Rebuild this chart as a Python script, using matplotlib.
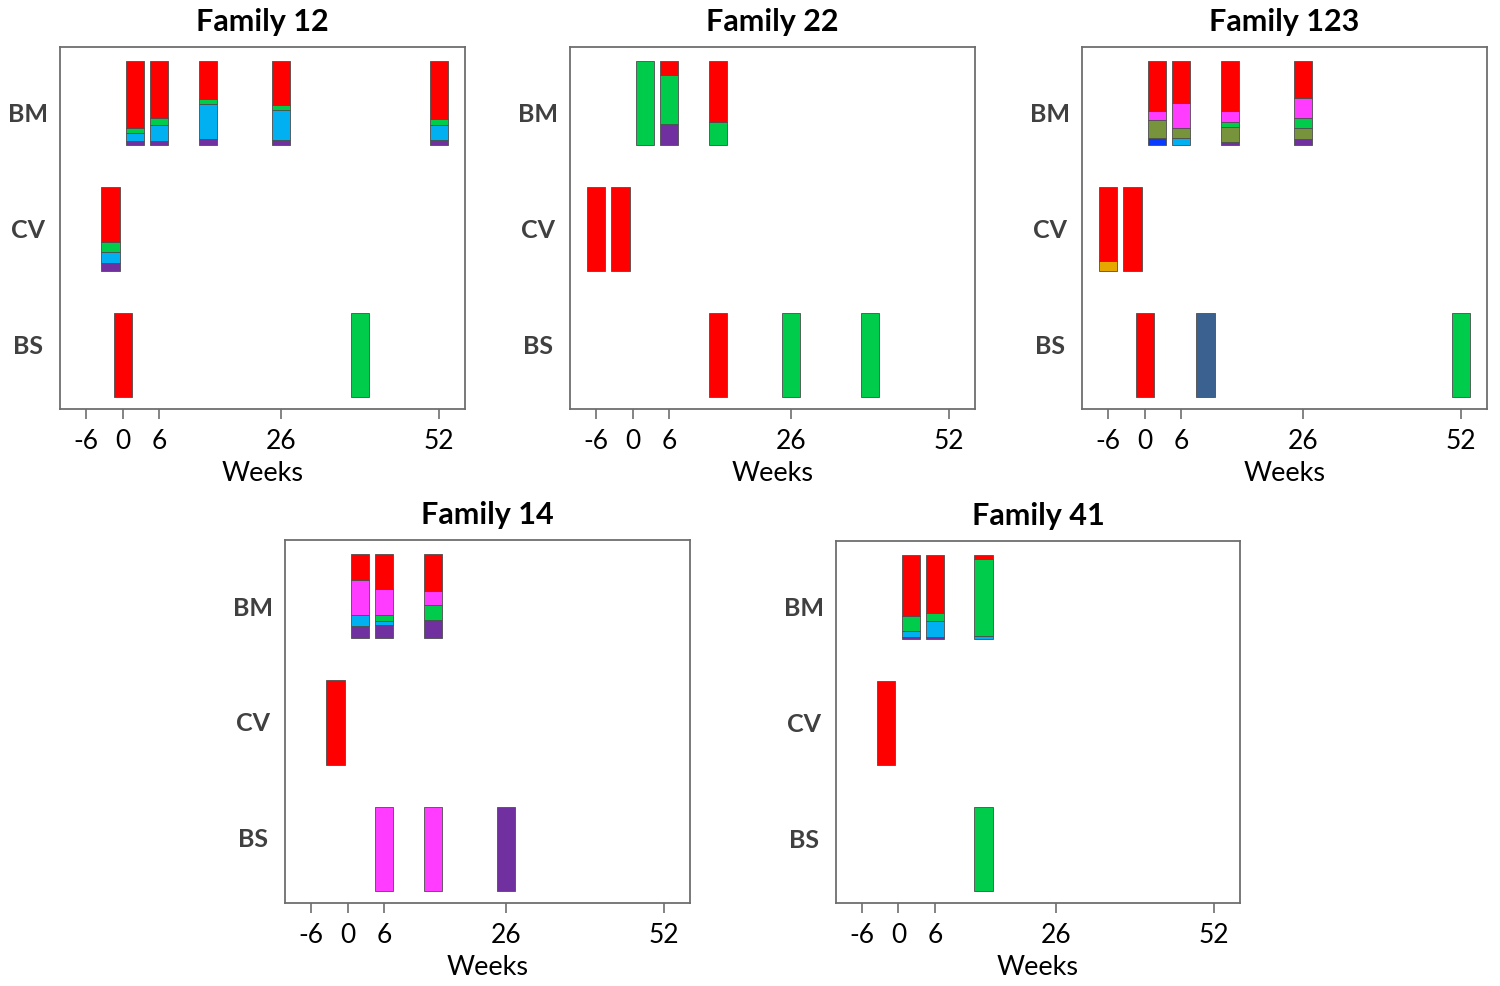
import matplotlib
matplotlib.use('Agg')
import matplotlib.pyplot as plt
import matplotlib.transforms as mtransforms

plt.rcParams['font.family'] = ['Lato', 'DejaVu Sans']

#### colours of the segment groups, drawn bottom to top in this order
seg_order = ['gold', 'purple', 'blue', 'cyan', 'olive', 'green', 'magenta', 'steel', 'red']
seg_colors = {'gold': '#E6A800', 'purple': '#7030A0', 'blue': '#0A3CFF', 'cyan': '#00B0F0',
              'olive': '#77933C', 'green': '#00CC4C', 'magenta': '#FF3CFF', 'steel': '#3A6190',
              'red': '#FF0000'}

rows = ['BS', 'CV', 'BM']
week_ticks = [-6, 0, 6, 26, 52]

# Family 12
f12_bm_weeks = [2, 6, 14, 26, 52]
f12_bm = {'purple': [0.044, 0.048, 0.07, 0.06, 0.06],
          'cyan': [0.095, 0.19, 0.42, 0.36, 0.18],
          'green': [0.07, 0.08, 0.06, 0.063, 0.07],
          'red': [0.79, 0.68, 0.45, 0.52, 0.69]}
f12_cv_weeks = [-2]
f12_cv = {'purple': [0.095], 'cyan': [0.13], 'green': [0.12], 'red': [0.655]}
f12_bs_weeks = [0, 39]
f12_bs = {'green': [0, 1], 'red': [1, 0]}

# Family 22
f22_bm_weeks = [2, 6, 14]
f22_bm = {'purple': [0, 0.25, 0], 'green': [1, 0.58, 0.28], 'red': [0, 0.17, 0.72]}
f22_cv_weeks = [-6, -2]
f22_cv = {'red': [1, 1]}
f22_bs_weeks = [14, 26, 39]
f22_bs = {'green': [0, 1, 1], 'red': [1, 0, 0]}

# Family 123
f123_bm_weeks = [2, 6, 14, 26]
f123_bm = {'purple': [0, 0, 0.04, 0.07],
           'blue': [0.08, 0, 0, 0],
           'cyan': [0, 0.087, 0, 0],
           'olive': [0.22, 0.12, 0.18, 0.13],
           'green': [0, 0, 0.05, 0.13],
           'magenta': [0.11, 0.30, 0.13, 0.24],
           'red': [0.59, 0.50, 0.60, 0.44]}
f123_cv_weeks = [-6, -2]
f123_cv = {'gold': [0.115, 0], 'red': [0.885, 1]}
f123_bs_weeks = [0, 10, 52]
f123_bs = {'green': [0, 0, 1], 'steel': [0, 1, 0], 'red': [1, 0, 0]}

# Family 14
f14_bm_weeks = [2, 6, 14]
f14_bm = {'purple': [0.15, 0.16, 0.22],
          'cyan': [0.13, 0.045, 0],
          'green': [0, 0.07, 0.175],
          'magenta': [0.40, 0.31, 0.17],
          'red': [0.31, 0.41, 0.44]}
f14_cv_weeks = [-2]
f14_cv = {'red': [1]}
f14_bs_weeks = [6, 14, 26]
f14_bs = {'purple': [0, 0, 1], 'magenta': [1, 1, 0]}

# Family 41
f41_bm_weeks = [2, 6, 14]
f41_bm = {'purple': [0.03, 0.03, 0],
          'cyan': [0.065, 0.18, 0.04],
          'green': [0.175, 0.10, 0.91],
          'red': [0.73, 0.69, 0.05]}
f41_cv_weeks = [-2]
f41_cv = {'red': [1]}
f41_bs_weeks = [14]
f41_bs = {'green': [1]}

families = [
    ('Family 12', [(f12_bs_weeks, f12_bs), (f12_cv_weeks, f12_cv), (f12_bm_weeks, f12_bm)]),
    ('Family 22', [(f22_bs_weeks, f22_bs), (f22_cv_weeks, f22_cv), (f22_bm_weeks, f22_bm)]),
    ('Family 123', [(f123_bs_weeks, f123_bs), (f123_cv_weeks, f123_cv), (f123_bm_weeks, f123_bm)]),
    ('Family 14', [(f14_bs_weeks, f14_bs), (f14_cv_weeks, f14_cv), (f14_bm_weeks, f14_bm)]),
    ('Family 41', [(f41_bs_weeks, f41_bs), (f41_cv_weeks, f41_cv), (f41_bm_weeks, f41_bm)]),
]

# axes boxes in pixels (left, top, right, bottom) of a 1500x987 canvas
W, H = 1500, 987
boxes = [(60, 48, 465, 410), (570, 48, 975, 410), (1082, 48, 1487, 410),
         (285, 541, 690, 904), (836, 542, 1240, 904)]

row_base = [0, 1.5, 3]       # bottom of each row of bars
label_y = [0.62, 2.0, 3.37]  # where the row names sit
bar_w = 3
spine_col = '#6E6E6E'

fig = plt.figure(figsize=(15, 9.87), dpi=100)

for (title, fam_rows), (l, t, r, b) in zip(families, boxes):
    ax = fig.add_axes([l / W, 1 - b / H, (r - l) / W, (b - t) / H])
    for base, (weeks, segs) in zip(row_base, fam_rows):
        totals = [sum(segs.get(k, [0] * len(weeks))[i] for k in seg_order) for i in range(len(weeks))]
        bottoms = [base] * len(weeks)
        for k in seg_order:
            if k not in segs:
                continue
            for i, wk in enumerate(weeks):
                v = segs[k][i]
                if v <= 0:
                    continue
                hgt = v / totals[i]
                ax.bar(wk, hgt, width=bar_w, bottom=bottoms[i], color=seg_colors[k],
                       edgecolor='#4D4D4D', linewidth=0.6, align='center')
                bottoms[i] += hgt

    ax.set_xlim(-10.3, 56.3)
    ax.set_ylim(-0.14, 4.167)
    ax.set_xticks(week_ticks)
    ax.set_xticklabels([str(w) for w in week_ticks], fontsize=19)
    ax.set_yticks([])
    ax.tick_params(axis='x', length=7, width=1.2, color=spine_col, pad=7)
    for s in ax.spines.values():
        s.set_color(spine_col)
        s.set_linewidth(1.3)
    ax.set_xlabel('Weeks', fontsize=19.5, labelpad=5)
    ax.set_title(title, fontsize=22, fontweight='bold', pad=12)

    trans = mtransforms.blended_transform_factory(ax.transAxes, ax.transData)
    for name, y in zip(rows, label_y):
        ax.text(-0.08, y, name, transform=trans, ha='center', va='center',
                fontsize=18, fontweight='bold', color='#404040')

fig.savefig('out.png', dpi=100)
